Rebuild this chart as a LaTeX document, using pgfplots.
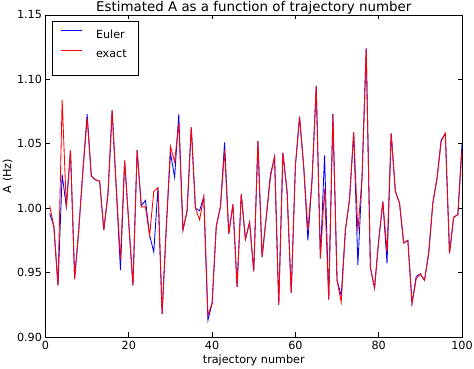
\documentclass[border=0pt]{standalone}
\usepackage{pgfplots}
\usepackage{pgfplotstable}
\pgfplotsset{compat=1.18}
\usepackage{fontspec}
\setmainfont{DejaVu Sans}

\pgfplotstableread{
n euler exact
1 0.996 1.002
2 0.986 0.986
3 0.940 0.940
4 1.026 1.084
5 1.001 1.001
6 1.045 1.045
7 0.945 0.945
8 0.984 0.984
9 1.030 1.030
10 1.073 1.070
11 1.025 1.025
12 1.022 1.022
13 1.021 1.021
14 0.983 0.983
15 1.011 1.011
16 1.076 1.076
17 1.015 1.015
18 0.952 0.960
19 1.037 1.037
20 0.988 0.988
21 0.940 0.940
22 1.045 1.045
23 1.002 1.001
24 1.006 1.001
25 0.979 0.979
26 0.966 1.013
27 1.016 1.016
28 0.918 0.918
29 0.985 0.985
30 1.043 1.048
31 1.024 1.036
32 1.073 1.066
33 0.983 0.983
34 0.998 0.998
35 1.063 1.063
36 1.000 1.000
37 0.998 0.991
38 1.009 1.009
39 0.913 0.917
40 0.926 0.926
41 0.986 0.986
42 1.001 1.001
43 1.051 1.045
44 0.980 0.980
45 1.003 1.003
46 0.939 0.939
47 1.011 1.011
48 0.976 0.976
49 0.989 0.989
50 0.951 0.951
51 1.052 1.052
52 0.962 0.962
53 0.993 0.993
54 1.026 1.024
55 1.040 1.040
56 0.925 0.925
57 1.043 1.043
58 1.013 1.013
59 0.934 0.934
60 1.033 1.033
61 1.071 1.071
62 1.032 1.032
63 0.975 0.983
64 1.022 1.022
65 1.095 1.095
66 0.961 0.961
67 1.041 1.015
68 0.929 0.929
69 1.073 1.073
70 0.944 0.944
71 0.932 0.927
72 0.983 0.983
73 1.007 1.007
74 1.059 1.059
75 0.956 0.982
76 1.024 1.024
77 1.124 1.124
78 0.954 0.954
79 0.938 0.938
80 0.975 0.975
81 1.005 1.005
82 0.957 0.966
83 1.058 1.058
84 1.013 1.013
85 1.004 1.004
86 0.973 0.973
87 0.975 0.975
88 0.926 0.926
89 0.947 0.945
90 0.949 0.949
91 0.944 0.944
92 0.965 0.965
93 1.004 1.004
94 1.023 1.023
95 1.053 1.052
96 1.058 1.058
97 0.965 0.965
98 0.993 0.993
99 0.995 0.995
100 1.050 1.045
}\datatable

\begin{document}
\begin{tikzpicture}
\begin{axis}[
  at={(0pt,0pt)}, anchor=south west,
  scale only axis, width=416.5pt, height=322pt,
  xmin=0, xmax=100, ymin=0.90, ymax=1.15,
  xtick={0,20,40,60,80,100},
  ytick={0.90,0.95,1.00,1.05,1.10,1.15},
  yticklabel style={/pgf/number format/.cd, fixed, fixed zerofill, precision=2},
  /pgf/number format/assume math mode=true,
  tick label style={font=\fontsize{11.2}{13}\selectfont},
  xticklabel style={anchor=base, yshift=-13pt},
  tick align=inside, major tick length=4.5pt,
  xtick pos=both, ytick pos=both,
  minor tick num=0,
  axis line style={line width=0.9pt},
  every tick/.style={black, line width=0.7pt},
  every axis title shift=0pt,
  title={Estimated A as a function of trajectory number},
  title style={font=\fontsize{13.4}{15}\selectfont, at={(axis description cs:0.5,1.0124)}, anchor=base},
  xlabel={trajectory number},
  xlabel style={font=\fontsize{11.2}{13}\selectfont, at={(axis description cs:0.5,-0.0823)}, anchor=base},
  ylabel={A (Hz)},
  ylabel style={font=\fontsize{11.2}{13}\selectfont, at={(axis description cs:-0.0828,0.5)}, anchor=base, rotate=0},
  legend cell align=left,
  legend image code/.code={\draw[#1] (0pt,4.1pt) -- (21pt,4.1pt);},
  legend style={
    at={(axis description cs:0,1)}, anchor=north west, xshift=7.2pt, yshift=-8.5pt,
    draw=none, fill=none, font=\fontsize{11.2}{13}\selectfont,
    inner xsep=8pt, inner ysep=6.3pt, row sep=9.8pt,
    nodes={inner sep=0pt, text height=8.2pt},
    /tikz/every odd column/.append style={column sep=13.3pt},
  },
]
\addplot[blue, line width=0.85pt] table[x=n, y=euler] {\datatable};
\addlegendentry{Euler\hspace{4pt}}
\addplot[red, line width=0.85pt] table[x=n, y=exact] {\datatable};
\addlegendentry{exact\hspace{4pt}}
\draw[black, line width=0.8pt] (axis description cs:0.0173,0.8137) rectangle (axis description cs:0.2221,0.9792);
\end{axis}
\pgfresetboundingbox
\path (-45.5pt,-32pt) rectangle (428.5pt,337pt);
\end{tikzpicture}
\end{document}
